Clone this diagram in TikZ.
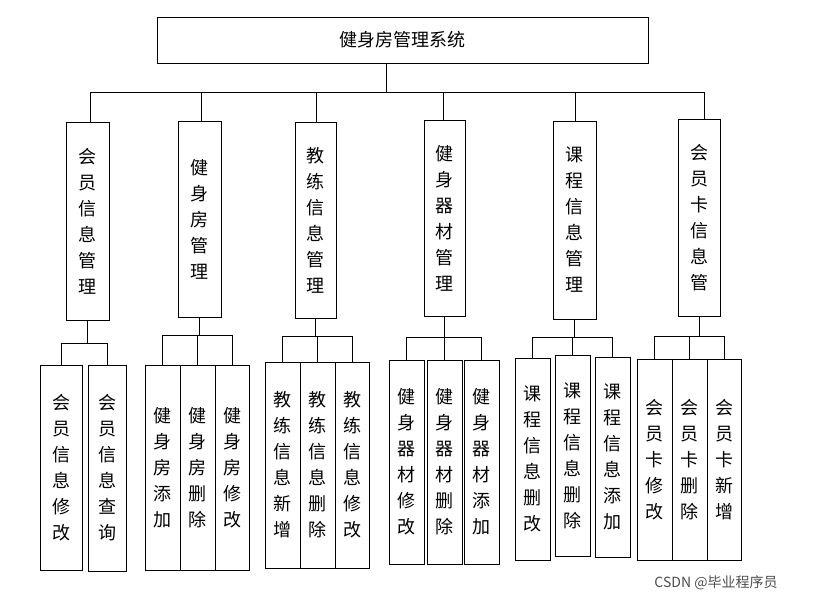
\documentclass[tikz,border=0pt]{standalone}
\usepackage{fontspec}
\newfontfamily\cjk{Noto Sans CJK SC}
\begin{document}
\begin{tikzpicture}[x=1pt,y=-1pt,
  bx/.style={draw,line width=0.8pt,inner sep=0pt,font=\cjk\fontsize{18}{26}\selectfont,align=center},
  ln/.style={line width=0.8pt}]
\useasboundingbox (0,0) rectangle (817,602);
\newcommand{\bxn}[7]{\node[bx,minimum width={#4-#2},minimum height={#5-#3}] (#1) at ({(#2+#4)/2},{(#3+#5)/2}) {#6};}
\bxn{top}{157}{17}{648}{63}{健身房管理系统}{}
\bxn{a}{66}{122}{109}{320}{会\\员\\信\\息\\管\\理}{}
\bxn{b}{178}{121}{221}{317}{健\\身\\房\\管\\理}{}
\bxn{c}{295}{122}{336}{318}{教\\练\\信\\息\\管\\理}{}
\bxn{d}{424}{120}{465}{316}{健\\身\\器\\材\\管\\理}{}
\bxn{e}{553}{121}{596}{319}{课\\程\\信\\息\\管\\理}{}
\bxn{f}{678}{119}{720}{316}{会\\员\\卡\\信\\息\\管}{}
\coordinate (tp) at (386,63);
\draw[ln] (tp) -- (386,92);
\draw[ln] (90,92) -- (704,92);
\foreach \n/\x in {a/90,b/201,c/316,d/443,e/575,f/704}{\draw[ln] (\x,92) -- (\n.north-|\x,0);}
% children
\bxn{a1}{40}{365}{82}{570}{会\\员\\信\\息\\修\\改}{}
\bxn{a2}{88}{365}{126}{571}{会\\员\\信\\息\\查\\询}{}
\bxn{b1}{145}{365}{180}{570}{健\\身\\房\\添\\加}{}
\bxn{b2}{180}{365}{215}{570}{健\\身\\房\\删\\除}{}
\bxn{b3}{215}{365}{249}{570}{健\\身\\房\\修\\改}{}
\bxn{c1}{265}{362}{300}{568}{教\\练\\信\\息\\新\\增}{}
\bxn{c2}{300}{362}{335}{568}{教\\练\\信\\息\\删\\除}{}
\bxn{c3}{335}{362}{369}{568}{教\\练\\信\\息\\修\\改}{}
\bxn{d1}{389}{360}{424}{564}{健\\身\\器\\材\\修\\改}{}
\bxn{d2}{427}{360}{462}{564}{健\\身\\器\\材\\删\\除}{}
\bxn{d3}{464}{360}{499}{564}{健\\身\\器\\材\\添\\加}{}
\bxn{e1}{515}{358}{550}{560}{课\\程\\信\\息\\删\\改}{}
\bxn{e2}{555}{355}{590}{556}{课\\程\\信\\息\\删\\除}{}
\bxn{e3}{595}{357}{630}{557}{课\\程\\信\\息\\添\\加}{}
\bxn{f1}{637}{359}{672}{560}{会\\员\\卡\\修\\改}{}
\bxn{f2}{672}{359}{707}{560}{会\\员\\卡\\删\\除}{}
\bxn{f3}{707}{359}{741}{560}{会\\员\\卡\\新\\增}{}
\newcommand{\grp}[4]{\draw[ln] (#1.south) -- (#1.south|-0,#2);
  \draw[ln] (#3.north|-0,#2) -- (#4.north|-0,#2);}
\grp{a}{343}{a1}{a2}
\grp{b}{335}{b1}{b3}
\grp{c}{336}{c1}{c3}
\grp{d}{337}{d1}{d3}
\grp{e}{337}{e1}{e3}
\grp{f}{336}{f1}{f3}
\foreach \n/\y in {a1/343,a2/343,b1/335,b2/335,b3/335,c1/336,c2/336,c3/336,d1/337,d2/337,d3/337,e1/337,e2/337,e3/337,f1/336,f2/336,f3/336}{\draw[ln] (\n.north|-0,\y) -- (\n.north);}
\node[font=\cjk\fontsize{14}{14}\selectfont,text=black!70] (wm) at (716,583) {CSDN @毕业程序员};
\end{tikzpicture}
\end{document}
